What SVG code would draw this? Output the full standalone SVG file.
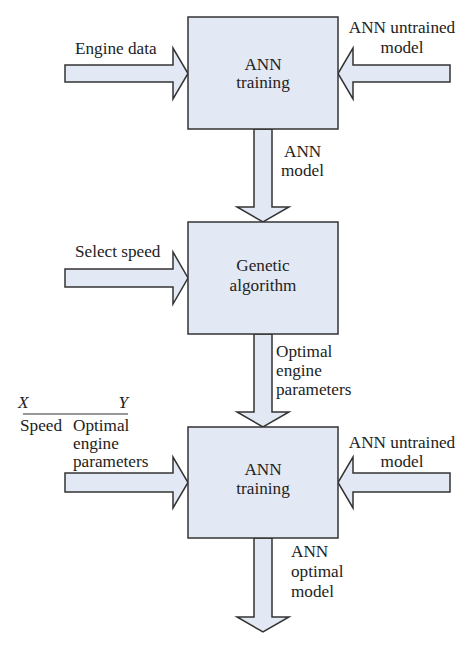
<svg xmlns="http://www.w3.org/2000/svg" width="474" height="649" viewBox="0 0 474 649">
<style>
.box{fill:#e3e9f4;stroke:#333;stroke-width:1.5}
.arr{fill:#e3e9f4;stroke:#333;stroke-width:1.5;stroke-linejoin:miter}
text{font-family:"Liberation Serif","Times New Roman",serif;font-size:17.2px;fill:#222}
.c{text-anchor:middle}
.i{font-style:italic}
</style>
<rect width="474" height="649" fill="#fff"/>
<g id="connectors">
<polygon class="arr" points="65,65 173,65 173,48 188,73.5 173,99 173,82 65,82"/>
<polygon class="arr" points="450,65 353,65 353,48 338,73.5 353,99 353,82 450,82"/>
<polygon class="arr" points="254,129 272,129 272,207 289,207 263,222 237,207 254,207"/>
<polygon class="arr" points="65,269 173,269 173,252 188,278 173,304 173,287 65,287"/>
<polygon class="arr" points="254,334 272,334 272,412 289,412 263,427 237,412 254,412"/>
<polygon class="arr" points="65,473 173,473 173,457 188,482.5 173,508 173,492 65,492"/>
<polygon class="arr" points="450,473 353,473 353,457 338,482.5 353,508 353,492 450,492"/>
<polygon class="arr" points="254,538 272,538 272,617 289,617 263,632 237,617 254,617"/>
<text x="75" y="54">Engine data</text>
<text x="402" y="33" class="c">ANN untrained</text>
<text x="402" y="53" class="c">model</text>
<text x="284" y="157">ANN</text>
<text x="281" y="176">model</text>
<text x="75" y="257">Select speed</text>
<text x="276" y="357">Optimal</text>
<text x="276" y="376">engine</text>
<text x="276" y="395">parameters</text>
<text x="18" y="408" class="i">X</text>
<text x="128" y="408" class="i" text-anchor="end">Y</text>
<line x1="23" y1="414" x2="128" y2="414" stroke="#333" stroke-width="1.2"/>
<text x="20" y="431">Speed</text>
<text x="73" y="431">Optimal</text>
<text x="73" y="449">engine</text>
<text x="73" y="467">parameters</text>
<text x="402" y="448" class="c">ANN untrained</text>
<text x="402" y="467" class="c">model</text>
<text x="291" y="557">ANN</text>
<text x="291" y="577">optimal</text>
<text x="291" y="597">model</text>
</g>
<g id="node1">
<rect class="box" x="188" y="17" width="150" height="112"/>
<text x="263" y="70" class="c">ANN</text>
<text x="263" y="88" class="c">training</text>
</g>
<g id="node2">
<rect class="box" x="188" y="222" width="150" height="112"/>
<text x="263" y="271" class="c">Genetic</text>
<text x="263" y="291" class="c">algorithm</text>
</g>
<g id="node3">
<rect class="box" x="188" y="427" width="150" height="111"/>
<text x="263" y="475" class="c">ANN</text>
<text x="263" y="494" class="c">training</text>
</g>
</svg>
